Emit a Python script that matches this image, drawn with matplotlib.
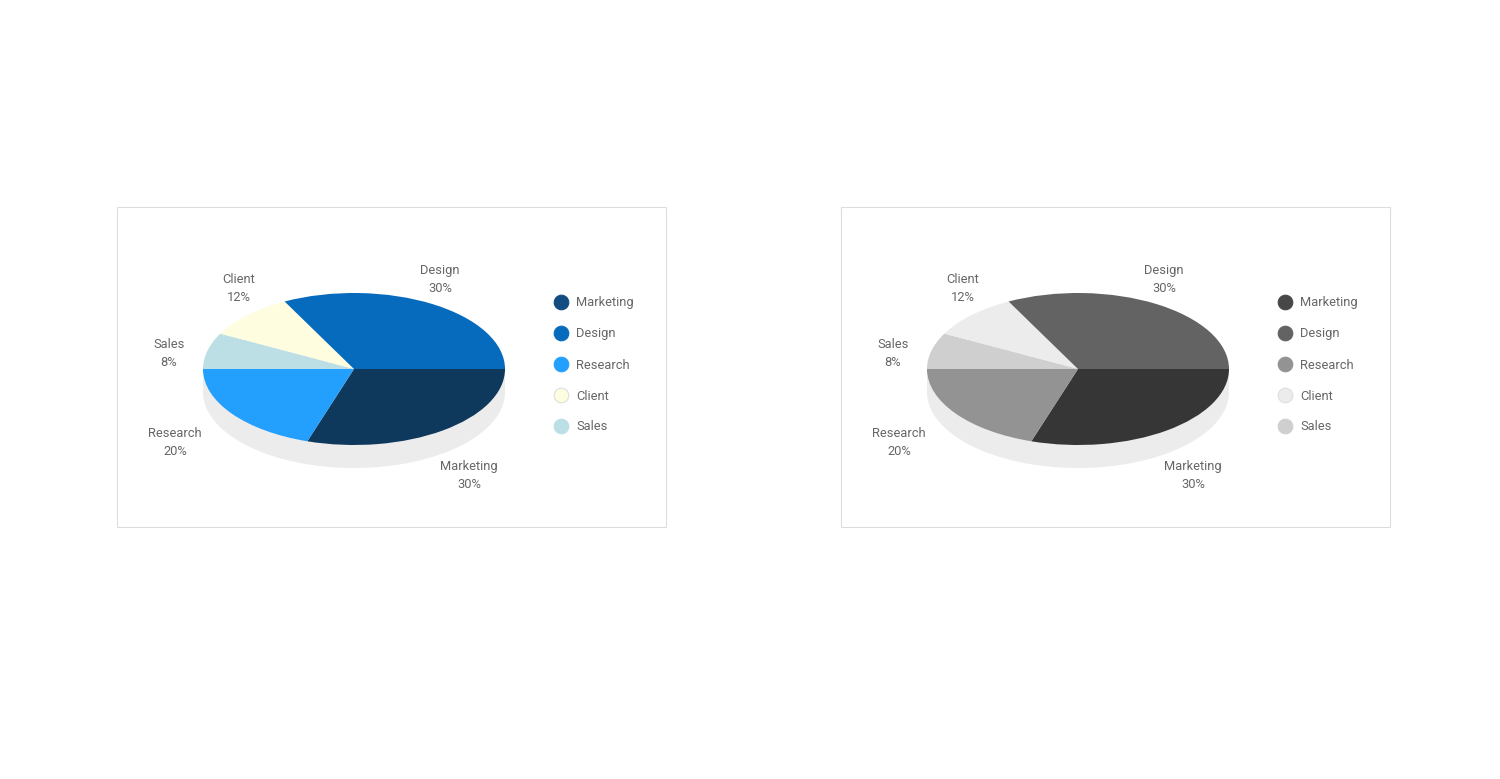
import matplotlib
matplotlib.use("Agg")
import matplotlib.pyplot as plt
from matplotlib.patches import Ellipse, Rectangle
from matplotlib.lines import Line2D

plt.rcParams['font.family'] = ['Roboto', 'DejaVu Sans']

W, H = 1500, 779

# data
categories = ["Marketing", "Design", "Research", "Client", "Sales"]
label_pct = [30, 30, 20, 12, 8]
# slice sizes as actually drawn in the picture (percent of the circle)
slice_pct = [30, 32.6, 20, 9.7, 7.7]
# slice order going clockwise from 3 o'clock
pie_order = ["Marketing", "Research", "Sales", "Client", "Design"]

blue_slices = {"Marketing": "#0f385d", "Design": "#076bbd", "Research": "#239ffd",
               "Client": "#fefde0", "Sales": "#bcdfe6"}
blue_legend = {"Marketing": "#124c80", "Design": "#076bbd", "Research": "#239ffd",
               "Client": "#fefde0", "Sales": "#bcdfe6"}
gray_slices = {"Marketing": "#363636", "Design": "#636363", "Research": "#939393",
               "Client": "#ececec", "Sales": "#cfcfcf"}
gray_legend = {"Marketing": "#474747", "Design": "#636363", "Research": "#939393",
               "Client": "#ececec", "Sales": "#cfcfcf"}

# label positions (pixel offsets from the pie centre)
label_offsets = {"Design": (86, -90), "Client": (-115, -81), "Sales": (-185, -16),
                 "Research": (-179, 73), "Marketing": (115, 106)}

TEXT = "#666666"
SHADOW = "#ececec"
RX, RY, DEPTH = 151, 76, 23


def fx(px):
    return px / W


def fy(py):
    return 1 - py / H


def draw_panel(fig, x0, slice_colors, legend_colors):
    # panel frame
    fig.add_artist(Rectangle((fx(x0), fy(527)), 549 / W, 320 / H,
                             transform=fig.transFigure, fill=False,
                             edgecolor="#dddddd", linewidth=0.8))
    cx, cy = x0 + 237, 369
    ax = fig.add_axes([fx(cx - RX), fy(cy + RY + DEPTH), 2 * RX / W, (2 * RY + DEPTH) / H])
    d = DEPTH / RY
    ax.add_patch(Ellipse((0, -d), 2, 2, color=SHADOW, zorder=0, lw=0))
    ax.add_patch(Rectangle((-1, -d), 2, d, color=SHADOW, zorder=0, lw=0))
    vals = [slice_pct[categories.index(c)] for c in pie_order]
    ax.pie(vals, colors=[slice_colors[c] for c in pie_order], startangle=0,
           counterclock=False, radius=1, wedgeprops=dict(linewidth=0))
    ax.set_aspect('auto')
    ax.set_xlim(-1, 1)
    ax.set_ylim(-1 - d, 1)
    ax.axis('off')

    for c in categories:
        ox, oy = label_offsets[c]
        fig.text(fx(cx + ox), fy(cy + oy - 8.5), c, ha='center', va='center',
                 fontsize=9.3, color=TEXT)
        fig.text(fx(cx + ox), fy(cy + oy + 9.5), f"{label_pct[categories.index(c)]}%",
                 ha='center', va='center', fontsize=9.3, color=TEXT)

    # legend
    for i, c in enumerate(categories):
        ly = 302 + 31 * i
        edge = "#dedede" if c == "Client" else legend_colors[c]
        fig.add_artist(Line2D([fx(x0 + 444)], [fy(ly)], marker='o', markersize=10.5,
                              markerfacecolor=legend_colors[c], markeredgecolor=edge,
                              markeredgewidth=0.8, linestyle='none',
                              transform=fig.transFigure))
        fig.text(fx(x0 + 459), fy(ly + 1), c, ha='left', va='center',
                 fontsize=9.3, color=TEXT)


fig = plt.figure(figsize=(W / 100, H / 100), dpi=100)
fig.patch.set_facecolor("white")
draw_panel(fig, 117, blue_slices, blue_legend)
draw_panel(fig, 841, gray_slices, gray_legend)
fig.savefig("out.png", dpi=100)
